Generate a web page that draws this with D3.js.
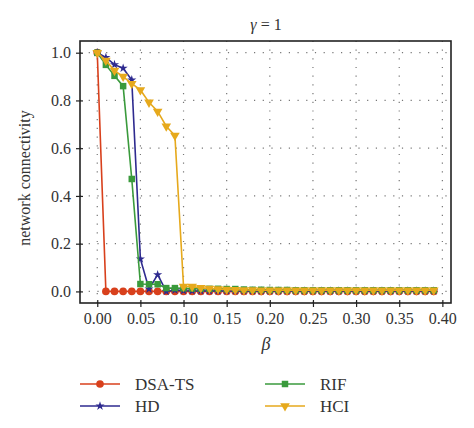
<!DOCTYPE html>
<html>
<head>
<meta charset="utf-8">
<script src="https://cdn.jsdelivr.net/npm/d3@7"></script>
<style>
  body { margin: 0; background: #fff; }
  text { font-family: "Liberation Serif", "DejaVu Serif", serif; fill: #333; font-weight: normal; }
</style>
</head>
<body>
<div id="chart"></div>
<script>
// beta values 0.00 .. 0.39
const betas = [0.00, 0.01, 0.02, 0.03, 0.04, 0.05, 0.06, 0.07, 0.08, 0.09,
  0.10, 0.11, 0.12, 0.13, 0.14, 0.15, 0.16, 0.17, 0.18, 0.19,
  0.20, 0.21, 0.22, 0.23, 0.24, 0.25, 0.26, 0.27, 0.28, 0.29,
  0.30, 0.31, 0.32, 0.33, 0.34, 0.35, 0.36, 0.37, 0.38, 0.39];

const dsaTs = [1.0, 0, 0, 0, 0, 0, 0, 0, 0, 0,
  0, 0, 0, 0, 0, 0, 0, 0, 0, 0,
  0, 0, 0, 0, 0, 0, 0, 0, 0, 0,
  0, 0, 0, 0, 0, 0, 0, 0, 0, 0];

const hd = [1.0, 0.98, 0.95, 0.935, 0.886, 0.136, 0.01, 0.07, 0.0, 0.005,
  0.003, 0.002, 0.002, 0.002, 0.002, 0.002, 0.002, 0.002, 0.002, 0.002,
  0.002, 0.002, 0.002, 0.002, 0.002, 0.002, 0.002, 0.002, 0.002, 0.002,
  0.002, 0.002, 0.002, 0.002, 0.002, 0.002, 0.002, 0.002, 0.002, 0.002];

const rif = [1.0, 0.949, 0.903, 0.86, 0.471, 0.031, 0.03, 0.03, 0.014, 0.014,
  0.013, 0.012, 0.012, 0.011, 0.011, 0.01, 0.01, 0.008, 0.007, 0.007,
  0.006, 0.006, 0.006, 0.005, 0.005, 0.005, 0.005, 0.005, 0.005, 0.005,
  0.005, 0.005, 0.005, 0.005, 0.005, 0.005, 0.005, 0.005, 0.005, 0.005];

const hci = [1.0, 0.967, 0.925, 0.9, 0.87, 0.844, 0.792, 0.754, 0.692, 0.653,
  0.021, 0.02, 0.015, 0.012, 0.01, 0.008, 0.007, 0.006, 0.006, 0.005,
  0.005, 0.005, 0.005, 0.005, 0.005, 0.005, 0.005, 0.005, 0.005, 0.005,
  0.005, 0.005, 0.005, 0.005, 0.005, 0.005, 0.005, 0.005, 0.005, 0.005];

const xTicks = [0.00, 0.05, 0.10, 0.15, 0.20, 0.25, 0.30, 0.35, 0.40];
const yTicks = [0.0, 0.2, 0.4, 0.6, 0.8, 1.0];

const series = [
  { name: 'DSA-TS', values: dsaTs, color: '#d8401c', symbol: 'circle' },
  { name: 'HD', values: hd, color: '#2e2a8f', symbol: 'star' },
  { name: 'RIF', values: rif, color: '#3a9a3c', symbol: 'square' },
  { name: 'HCI', values: hci, color: '#e6a91c', symbol: 'triangle' }
];

const width = 474;
const height = 428;
const plotLeft = 80, plotRight = 451, plotTop = 41, plotBottom = 303;

const svg = d3.select('#chart')
  .append('svg')
  .attr('width', width)
  .attr('height', height);

const x = d3.scaleLinear().domain([-0.02, 0.41]).range([plotLeft, plotRight]);
const y = d3.scaleLinear().domain([-0.0485, 1.049]).range([plotBottom, plotTop]);

// dotted grid
const grid = svg.append('g')
  .attr('stroke', '#777')
  .attr('stroke-width', 1.2)
  .attr('stroke-dasharray', '1.2,7.5');

grid.selectAll('.gx')
  .data(xTicks)
  .enter()
  .append('line')
  .attr('x1', d => x(d)).attr('x2', d => x(d))
  .attr('y1', plotBottom).attr('y2', plotTop);

grid.selectAll('.gy')
  .data(yTicks)
  .enter()
  .append('line')
  .attr('x1', plotLeft).attr('x2', plotRight)
  .attr('y1', d => y(d)).attr('y2', d => y(d));

// axes
const xAxis = svg.append('g')
  .attr('transform', `translate(0, ${plotBottom})`)
  .call(d3.axisBottom(x).tickValues(xTicks).tickFormat(d3.format('.2f')).tickSizeInner(4).tickSizeOuter(0).tickPadding(6));

const yAxis = svg.append('g')
  .attr('transform', `translate(${plotLeft}, 0)`)
  .call(d3.axisLeft(y).tickValues(yTicks).tickFormat(d3.format('.1f')).tickSizeInner(4).tickSizeOuter(0).tickPadding(5));

[xAxis, yAxis].forEach(a => {
  a.select('.domain').remove();
  a.selectAll('.tick line').attr('stroke', '#222').attr('stroke-width', 1.2);
  a.selectAll('.tick text')
    .style('font-family', '"Liberation Serif", serif')
    .style('font-size', '16px')
    .attr('fill', '#333');
});
// ticks cross the frame a little
xAxis.selectAll('.tick line').attr('y1', -3);
yAxis.selectAll('.tick line').attr('x1', 3);

// frame
svg.append('rect')
  .attr('x', plotLeft).attr('y', plotTop)
  .attr('width', plotRight - plotLeft).attr('height', plotBottom - plotTop)
  .attr('fill', 'none')
  .attr('stroke', '#222')
  .attr('stroke-width', 1.6);

const symbolPath = (s) => {
  if (s === 'circle') return d3.symbol().type(d3.symbolCircle).size(46)();
  if (s === 'square') return d3.symbol().type(d3.symbolSquare).size(42)();
  if (s === 'star') return d3.symbol().type(d3.symbolStar).size(26)();
  return d3.symbol().type(d3.symbolTriangle).size(40)();
};
const symbolRot = s => (s === 'triangle' ? ' rotate(180)' : '');

const line = d3.line()
  .x((d, i) => x(betas[i]))
  .y(d => y(d));

series.forEach(s => {
  const g = svg.append('g');
  g.append('path')
    .datum(s.values)
    .attr('d', line)
    .attr('fill', 'none')
    .attr('stroke', s.color)
    .attr('stroke-width', 1.6);
  g.selectAll('path.m')
    .data(s.values)
    .enter()
    .append('path')
    .attr('class', 'm')
    .attr('d', symbolPath(s.symbol))
    .attr('transform', (d, i) => `translate(${x(betas[i])}, ${y(d)})${symbolRot(s.symbol)}`)
    .attr('fill', s.color);
});

// title and labels
const title = svg.append('text')
  .attr('x', 266).attr('y', 30)
  .attr('text-anchor', 'middle')
  .style('font-size', '16px');
title.append('tspan').style('font-style', 'italic').text('γ');
title.append('tspan').text(' = 1');

svg.append('text')
  .attr('x', 266).attr('y', 350)
  .attr('text-anchor', 'middle')
  .style('font-size', '18px')
  .style('font-style', 'italic')
  .text('β');

svg.append('text')
  .attr('transform', `translate(30, ${(plotTop + plotBottom) / 2 + 6}) rotate(-90)`)
  .attr('text-anchor', 'middle')
  .style('font-size', '16px')
  .text('network connectivity');

// legend
const legendPos = [
  { lx: 80, ly: 384 },
  { lx: 80, ly: 406 },
  { lx: 265, ly: 384 },
  { lx: 265, ly: 406 }
];

const legend = svg.selectAll('.legend')
  .data(series)
  .enter()
  .append('g')
  .attr('transform', (d, i) => `translate(${legendPos[i].lx}, ${legendPos[i].ly})`);

legend.append('line')
  .attr('x1', 0).attr('x2', 40)
  .attr('stroke', d => d.color)
  .attr('stroke-width', 1.6);

legend.append('path')
  .attr('d', d => symbolPath(d.symbol))
  .attr('transform', d => `translate(20, 0)${symbolRot(d.symbol)}`)
  .attr('fill', d => d.color);

legend.append('text')
  .attr('x', 55)
  .attr('y', 6)
  .style('font-size', '17px')
  .text(d => d.name);
</script>
</body>
</html>
